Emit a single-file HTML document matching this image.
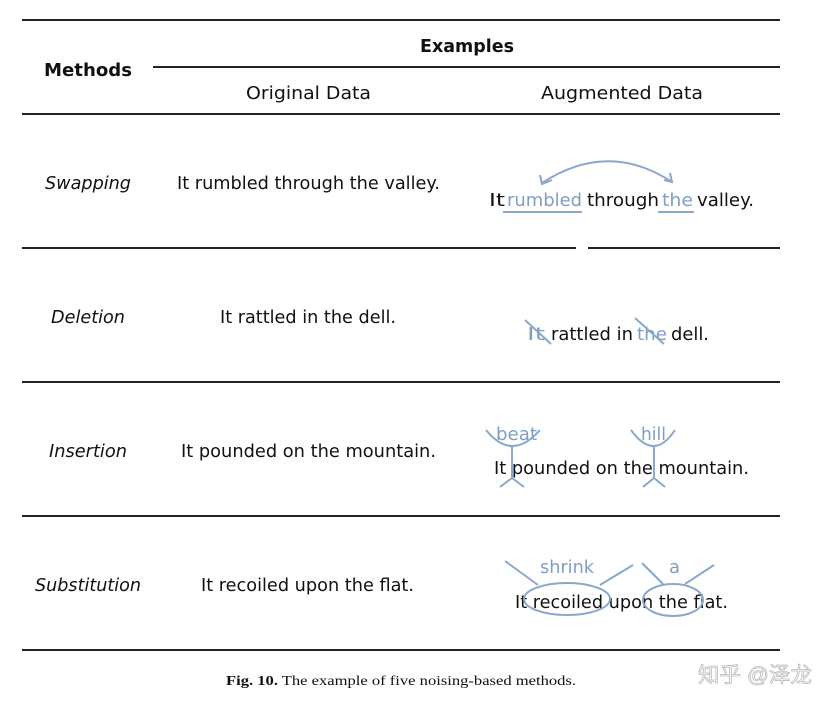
<!DOCTYPE html>
<html><head><meta charset="utf-8"><style>
html,body{margin:0;padding:0;background:#fff;}
svg{display:block;}
.s{font-family:"DejaVu Sans","Liberation Sans",sans-serif;font-size:18px;fill:#111;}
.b{fill:#7f9ec4;}
.ln{stroke:#222;stroke-width:2;}
.bl{stroke:#8aa8cc;stroke-width:2;fill:none;}
</style></head><body>
<svg width="832" height="706" viewBox="0 0 832 706">
<line class="ln" x1="22" y1="20" x2="780" y2="20"/>
<line class="ln" x1="153" y1="67" x2="780" y2="67"/>
<line class="ln" x1="22" y1="114" x2="780" y2="114"/>
<line class="ln" x1="22" y1="248" x2="576" y2="248"/>
<line class="ln" x1="588" y1="248" x2="780" y2="248"/>
<line class="ln" x1="22" y1="382" x2="780" y2="382"/>
<line class="ln" x1="22" y1="516" x2="780" y2="516"/>
<line class="ln" x1="22" y1="650" x2="780" y2="650"/>

<text class="s" x="420" y="52" textLength="94" lengthAdjust="spacingAndGlyphs" font-weight="bold">Examples</text>
<text class="s" x="44" y="76" textLength="88" lengthAdjust="spacingAndGlyphs" font-weight="bold">Methods</text>
<text class="s" x="246" y="99" textLength="125" lengthAdjust="spacingAndGlyphs">Original Data</text>
<text class="s" x="541" y="99" textLength="162" lengthAdjust="spacingAndGlyphs">Augmented Data</text>

<text class="s" x="45" y="189" textLength="86" lengthAdjust="spacingAndGlyphs" font-style="italic">Swapping</text>
<text class="s" x="51" y="323" textLength="74" lengthAdjust="spacingAndGlyphs" font-style="italic">Deletion</text>
<text class="s" x="49" y="457" textLength="78" lengthAdjust="spacingAndGlyphs" font-style="italic">Insertion</text>
<text class="s" x="35" y="591" textLength="106" lengthAdjust="spacingAndGlyphs" font-style="italic">Substitution</text>

<text class="s" x="177" y="189" textLength="263" lengthAdjust="spacingAndGlyphs">It rumbled through the valley.</text>
<text class="s" x="220" y="323" textLength="176" lengthAdjust="spacingAndGlyphs">It rattled in the dell.</text>
<text class="s" x="181" y="457" textLength="255" lengthAdjust="spacingAndGlyphs">It pounded on the mountain.</text>
<text class="s" x="201" y="591" textLength="213" lengthAdjust="spacingAndGlyphs">It recoiled upon the flat.</text>

<!-- swapping -->
<text class="s" x="489" y="206" textLength="16" lengthAdjust="spacingAndGlyphs">It</text>
<text class="s b" x="507" y="206" textLength="75" lengthAdjust="spacingAndGlyphs">rumbled</text>
<text class="s" x="587" y="206" textLength="72" lengthAdjust="spacingAndGlyphs">through</text>
<text class="s b" x="662" y="206" textLength="31" lengthAdjust="spacingAndGlyphs">the</text>
<text class="s" x="697" y="206" textLength="57" lengthAdjust="spacingAndGlyphs">valley.</text>
<line class="bl" x1="503" y1="212" x2="582" y2="212"/>
<line class="bl" x1="658" y1="212" x2="694" y2="212"/>
<path class="bl" d="M542 183 Q608 140 672 182"/>
<path class="bl" d="M540 175 L542 184 L552 180"/>
<path class="bl" d="M664 180 L672 182 L670 173"/>

<!-- deletion -->
<text class="s b" x="527" y="340" textLength="18" lengthAdjust="spacingAndGlyphs">It</text>
<text class="s" x="551" y="340" textLength="82" lengthAdjust="spacingAndGlyphs">rattled in</text>
<text class="s b" x="637" y="340" textLength="30" lengthAdjust="spacingAndGlyphs">the</text>
<text class="s" x="671" y="340" textLength="38" lengthAdjust="spacingAndGlyphs">dell.</text>
<line class="bl" x1="525" y1="320" x2="551" y2="344"/>
<line class="bl" x1="635" y1="318" x2="664" y2="344"/>

<!-- insertion -->
<text class="s" x="494" y="474" textLength="255" lengthAdjust="spacingAndGlyphs">It pounded on the mountain.</text>
<text class="s b" x="496" y="440" textLength="41" lengthAdjust="spacingAndGlyphs">beat</text>
<text class="s b" x="641" y="440" textLength="25" lengthAdjust="spacingAndGlyphs">hill</text>
<path class="bl" d="M486 430 Q512 462 540 430"/>
<line class="bl" x1="512" y1="446" x2="512" y2="478"/>
<path class="bl" d="M500 487 L512 478 L524 487"/>
<path class="bl" d="M631 430 Q654 462 675 430"/>
<line class="bl" x1="654" y1="446" x2="654" y2="478"/>
<path class="bl" d="M643 487 L654 478 L665 487"/>

<!-- substitution -->
<text class="s" x="515" y="608" textLength="213" lengthAdjust="spacingAndGlyphs">It recoiled upon the flat.</text>
<text class="s b" x="540" y="573" textLength="54" lengthAdjust="spacingAndGlyphs">shrink</text>
<text class="s b" x="669" y="573" textLength="11" lengthAdjust="spacingAndGlyphs">a</text>
<ellipse class="bl" cx="567" cy="599" rx="43" ry="16"/>
<ellipse class="bl" cx="673" cy="600" rx="30" ry="16"/>
<line class="bl" x1="505" y1="561" x2="538" y2="585"/>
<line class="bl" x1="600" y1="585" x2="633" y2="565"/>
<line class="bl" x1="642" y1="563" x2="663" y2="584"/>
<line class="bl" x1="685" y1="584" x2="714" y2="565"/>

<text x="226" y="685" font-family="Liberation Serif,serif" font-size="14" textLength="350" lengthAdjust="spacingAndGlyphs" fill="#111"><tspan font-weight="bold">Fig. 10.</tspan> The example of five noising-based methods.</text>
<text x="698" y="682" font-family="Liberation Sans,'Noto Sans CJK SC',sans-serif" font-size="21" textLength="114" lengthAdjust="spacingAndGlyphs" fill="#fff" stroke="#bbb" stroke-width="0.8">知乎 @泽龙</text>
</svg>
</body></html>
